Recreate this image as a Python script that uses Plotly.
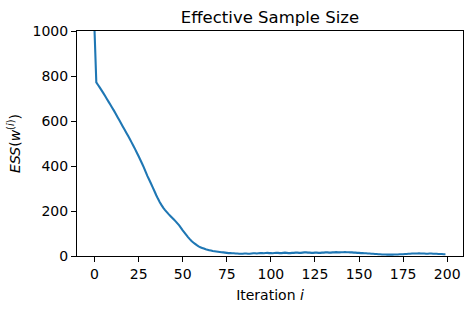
import plotly.graph_objects as go

iterations = list(range(200))
ess = [
    1000, 772, 760, 748, 736, 724, 711, 698, 685, 672,
    659, 646, 632, 618, 604, 590, 576, 562, 548, 534,
    520, 505, 490, 475, 459, 443, 427, 410, 393, 374,
    355, 339, 322, 305, 288, 270, 254, 239, 226, 214,
    204, 195, 186, 178, 170, 162, 154, 145, 136, 125,
    114, 104, 94, 84, 75, 67, 60, 54, 48, 43,
    39, 36, 33, 30, 28, 26, 24, 22, 21, 20,
    19, 18, 17, 16, 15, 14, 13, 13, 12, 12,
    11, 11, 10, 10, 10, 11, 11, 10, 10, 11,
    12, 12, 11, 12, 13, 13, 12, 13, 14, 13,
    13, 12, 13, 14, 14, 13, 13, 14, 15, 14,
    13, 13, 14, 14, 15, 15, 14, 14, 15, 16,
    16, 15, 15, 14, 14, 15, 15, 14, 14, 15,
    15, 16, 16, 15, 15, 16, 16, 17, 16, 16,
    17, 17, 18, 17, 17, 16, 16, 15, 15, 14,
    14, 13, 13, 12, 12, 11, 11, 10, 10, 9,
    9, 8, 8, 7, 7, 7, 6, 6, 6, 6,
    7, 7, 7, 8, 8, 8, 9, 9, 10, 10,
    11, 11, 11, 11, 12, 11, 11, 11, 10, 10,
    11, 11, 10, 10, 10, 9, 9, 9, 8, 8,
]

x_ticks = [0, 25, 50, 75, 100, 125, 150, 175, 200]
y_ticks = [0, 200, 400, 600, 800, 1000]

font_family = "DejaVu Sans"

fig = go.Figure()
fig.add_trace(go.Scatter(
    x=iterations, y=ess, mode="lines",
    line=dict(color="#1f77b4", width=2.1, simplify=False),
    showlegend=False,
))

axis_common = dict(
    showgrid=False, zeroline=False, showline=True, linecolor="black",
    linewidth=1.1, mirror=True, ticks="outside", ticklen=5, tickwidth=1.1,
    tickcolor="black", tickfont=dict(family=font_family, size=14, color="black"),
    automargin=False,
)

fig.update_layout(
    width=474, height=310,
    margin=dict(l=77, r=11, t=31, b=54),
    paper_bgcolor="white", plot_bgcolor="white",
    title=dict(text="Effective Sample Size", x=0.5695, xanchor="center",
               y=0.945, yanchor="middle",
               font=dict(family=font_family, size=16.5, color="black")),
    xaxis=dict(range=[-9.95, 208.95], tickvals=x_ticks,
               title=dict(text="Iteration <i>i</i>", standoff=9,
                          font=dict(family=font_family, size=14, color="black")),
               **axis_common),
    yaxis=dict(range=[0, 1000], tickvals=y_ticks,
               title=dict(text="<i>ESS</i>(<i>w</i><sup>(<i>i</i>)</sup>)", standoff=8,
                          font=dict(family=font_family, size=14, color="black")),
               **axis_common),
)

fig.write_html("out.html")
